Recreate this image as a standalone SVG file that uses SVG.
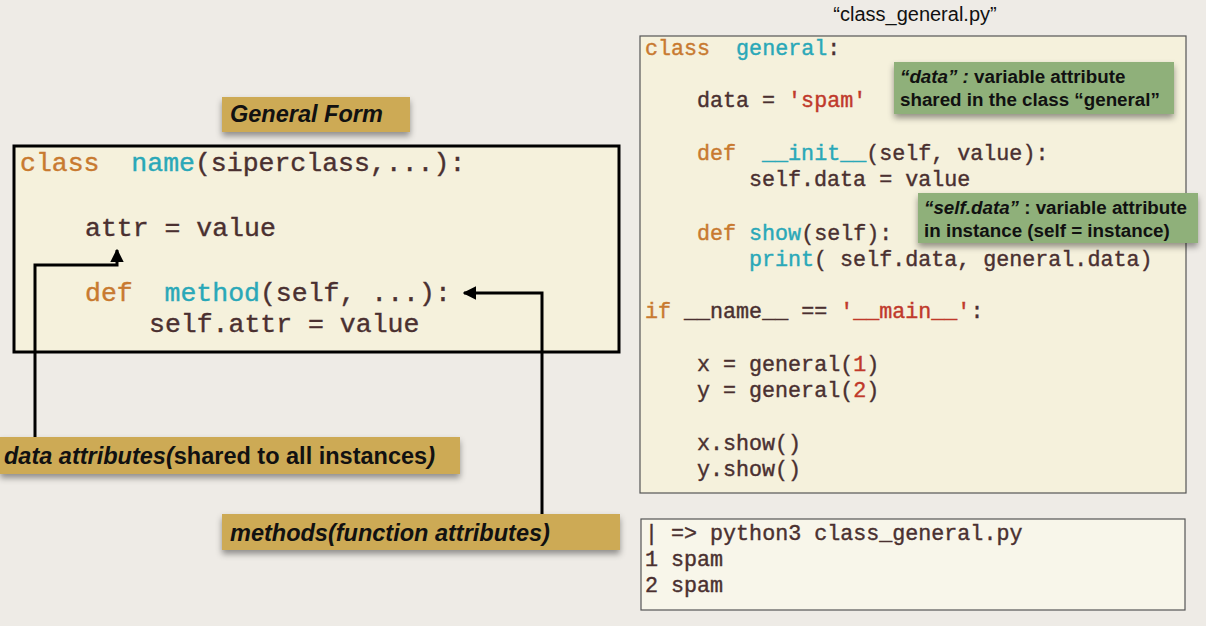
<svg xmlns="http://www.w3.org/2000/svg" width="1206" height="626" viewBox="0 0 1206 626">
<style>
.code{font-family:"Liberation Mono","Courier New",monospace;fill:#4a3030;stroke:#4a3030;stroke-width:0.4;white-space:pre}
.big{font-size:26.5px}
.sm{font-size:21.7px}
.kw{fill:#c87a30;stroke:#c87a30}
.fn{fill:#2aa8b8;stroke:#2aa8b8}
.st{fill:#c0392b;stroke:#c0392b}
.lbl{font-family:"Liberation Sans",Arial,sans-serif;font-weight:bold;font-style:italic;font-size:23.5px;fill:#111}
.note{font-family:"Liberation Sans",Arial,sans-serif;font-weight:bold;font-size:18.8px;fill:#111}
.gold{fill:#cdaa55}
.green{fill:#8fb07a}
.conn{fill:none;stroke:#000;stroke-width:3}
</style>
<defs>
<marker id="ah" viewBox="0 0 10 10" refX="9" refY="5" markerWidth="4.5" markerHeight="4.5" orient="auto"><path d="M0,0L10,5L0,10z" fill="#000"/></marker>
<filter id="sh" x="-10%" y="-20%" width="120%" height="160%"><feDropShadow dx="0" dy="4" stdDeviation="3" flood-color="#000" flood-opacity="0.4"/></filter>
</defs>
<rect width="1206" height="626" fill="#eeebe6"/>
<text x="915" y="21" font-family="Liberation Sans,Arial,sans-serif" font-size="20" fill="#111" text-anchor="middle">“class_general.py”</text>

<g id="general-form-label"><rect class="gold" x="222" y="97" width="188" height="35" filter="url(#sh)"/><text class="lbl" x="230" y="122">General Form</text></g>

<g id="general-form-code">
<rect x="14" y="146" width="605" height="206" fill="#f5f1dc" stroke="#000" stroke-width="3"/>
<text class="code big" x="20" y="171"><tspan class="kw">class</tspan>  <tspan class="fn">name</tspan>(siperclass,...):</text>
<text class="code big" x="85" y="236">attr = value</text>
<text class="code big" x="85" y="301"><tspan class="kw">def</tspan>  <tspan class="fn">method</tspan>(self, ...):</text>
<text class="code big" x="149" y="332">self.attr = value</text>
</g>

<g id="data-attr-label"><rect class="gold" x="0" y="437" width="460" height="37" filter="url(#sh)"/><text class="lbl" x="4" y="464">data attributes(<tspan font-style="normal">shared to all instances</tspan>)</text></g>
<g id="methods-label"><rect class="gold" x="222" y="514" width="398" height="36" filter="url(#sh)"/><text class="lbl" x="230" y="541">methods(function attributes)</text></g>

<g id="connectors">
<path class="conn" d="M35,437V265H117V250" marker-end="url(#ah)"/>
<path class="conn" d="M542,514V293H464" marker-end="url(#ah)"/>
</g>

<g id="class-general-code">
<rect x="640" y="36" width="546" height="457" fill="#f5f1dc" stroke="#555" stroke-width="1.2"/>
<text class="code sm" x="645" y="55"><tspan class="kw">class</tspan>  <tspan class="fn">general</tspan>:</text>
<text class="code sm" x="697" y="107">data = <tspan class="st">'spam'</tspan></text>
<text class="code sm" x="697" y="160"><tspan class="kw">def</tspan>  <tspan class="fn">__init__</tspan>(self, value):</text>
<text class="code sm" x="749" y="186">self.data = value</text>
<text class="code sm" x="697" y="240"><tspan class="kw">def</tspan> <tspan class="fn">show</tspan>(self):</text>
<text class="code sm" x="749" y="266"><tspan class="fn">print</tspan>( self.data, general.data)</text>
<text class="code sm" x="645" y="318"><tspan class="kw">if</tspan> __name__ == <tspan class="st">'__main__'</tspan>:</text>
<text class="code sm" x="697" y="371">x = general(<tspan class="st">1</tspan>)</text>
<text class="code sm" x="697" y="397">y = general(<tspan class="st">2</tspan>)</text>
<text class="code sm" x="697" y="450">x.show()</text>
<text class="code sm" x="697" y="476">y.show()</text>
</g>

<g id="note-data"><rect class="green" x="894" y="62" width="280" height="52" filter="url(#sh)"/><text class="note" x="900" y="83"><tspan font-style="italic">“data” :</tspan> variable attribute</text><text class="note" x="900" y="106">shared in the class “general”</text></g>
<g id="note-self-data"><rect class="green" x="918" y="193" width="280" height="50" filter="url(#sh)"/><text class="note" x="924" y="214"><tspan font-style="italic">“self.data”</tspan> : variable attribute</text><text class="note" x="924" y="237">in instance (self = instance)</text></g>

<g id="output">
<rect x="641" y="519" width="544" height="91" fill="#f8f6ea" stroke="#555" stroke-width="1.2"/>
<text class="code sm" x="645" y="540">| =&gt; python3 class_general.py</text>
<text class="code sm" x="645" y="566">1 spam</text>
<text class="code sm" x="645" y="592">2 spam</text>
</g>
</svg>
